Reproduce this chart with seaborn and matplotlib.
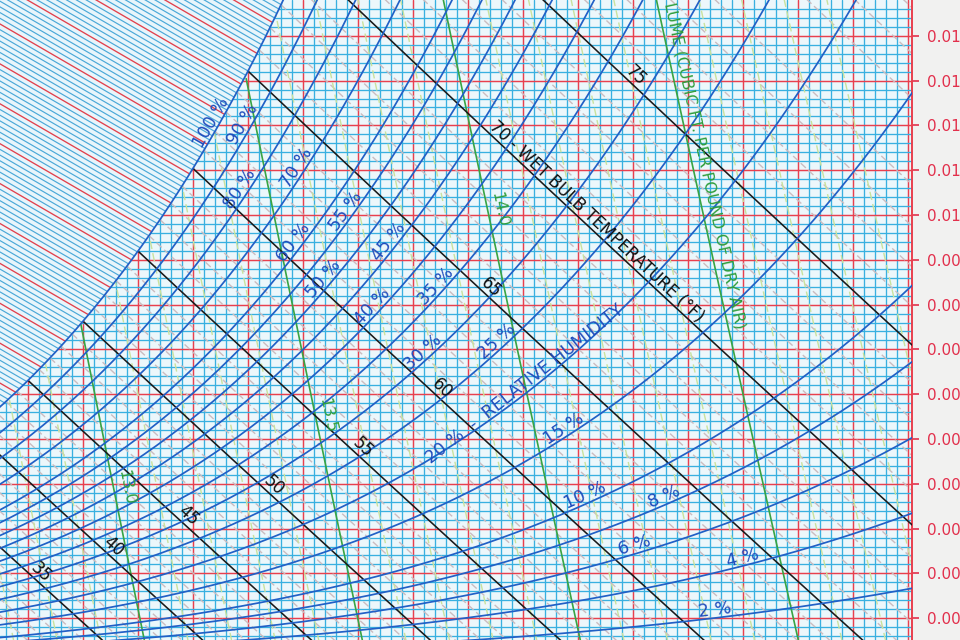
import numpy as np
import pandas as pd
import matplotlib
matplotlib.use("Agg")
import matplotlib.pyplot as plt
import seaborn as sns
from matplotlib.ticker import MultipleLocator, FixedLocator, FixedFormatter
from matplotlib.patches import Polygon
from matplotlib.collections import LineCollection

# ---------------- data ----------------
rh_levels = [2, 4, 6, 8, 10, 15, 20, 25, 30, 35, 40, 45, 50, 55, 60, 70, 80, 90, 100]
rh_label_text = {2: "2 %", 4: "4 %", 6: "6 %", 8: "8 %", 10: "10 %", 15: "15 %",
                 20: "20 %  -  RELATIVE HUMIDITY", 25: "25 %", 30: "30 %",
                 35: "35 %", 40: "40 %", 45: "45 %", 50: "50 %", 55: "55 %",
                 60: "60 %", 70: "70 %", 80: "80 %", 90: "90 %", 100: "100 %"}
wb_major = [35, 40, 45, 50, 55, 60, 65, 70, 75]
wb_label_text = {35: "35", 40: "40", 45: "45", 50: "50", 55: "55", 60: "60",
                 65: "65", 70: "70 - WET BULB TEMPERATURE (°F)", 75: "75"}
wb_minor = [26, 27, 28, 29, 31, 32, 33, 34, 36, 37, 38, 39, 41, 42, 43, 44,
            46, 47, 48, 49, 51, 52, 53, 54, 56, 57, 58, 59, 61, 62, 63, 64,
            66, 67, 68, 69, 71, 72, 73, 74, 76, 77, 78, 79, 81, 82, 83, 84]
vol_major = [13.0, 13.5, 14.0, 14.5]
# the photo crops the start of the 14.5 line title
vol_label_text = {13.0: "13.0", 13.5: "13.5", 14.0: "14.0",
                  14.5: "LUME (CUBIC FT. PER POUND OF DRY AIR)"}
vol_minor = [12.6, 12.7, 12.8, 12.9, 13.1, 13.2, 13.3, 13.4, 13.6, 13.7, 13.8,
             13.9, 14.1, 14.2, 14.3, 14.4, 14.6, 14.7, 14.8, 14.9]
w_ticks = [0.001, 0.002, 0.003, 0.004, 0.005, 0.006, 0.007, 0.008, 0.009,
           0.010, 0.011, 0.012, 0.013, 0.014]
w_tick_labels = ["0.001", "0.002", "0.003", "0.004", "0.005", "0.006", "0.007",
                 "0.008", "0.009", "0.010", "0.011", "0.012", "0.013", "0.014"]
# the right edge of the photo cuts the last digit off every humidity label
w_tick_shown = [s[:4] for s in w_tick_labels]

# ---------------- psychrometrics (IP units) ----------------
P = 14.696

def psat(tf):
    tc = (np.asarray(tf, float) - 32.0) / 1.8
    pk = 0.61121 * np.exp((18.678 - tc / 234.5) * (tc / (257.14 + tc)))
    return pk / 6.894757

def w_rh(tf, rh):
    pv = rh / 100.0 * psat(tf)
    return 0.622 * pv / (P - pv)

def w_wb(tf, twb):
    ws = w_rh(twb, 100)
    return ((1093 - 0.556 * twb) * ws - 0.240 * (tf - twb)) / (1093 + 0.444 * tf - twb)

def t_vol(w, v):
    return v * P / (0.370486 * (1 + 1.607858 * w)) - 459.67

# ---------------- figure ----------------
sns.set_theme(style="white")
plt.rcParams['font.family'] = ['DejaVu Sans']

T0 = 65 - 248 / 11.0
T1 = 65 + (912 - 248) / 11.0
W_TOP = 663 / 44800.0
W_BOT = 23 / 44800.0

fig = plt.figure(figsize=(9.6, 6.4), dpi=100, facecolor='#f1f1f0')
ax = fig.add_axes([0, 0, 912 / 960, 1])
ax.set_xlim(T0, T1)
ax.set_ylim(W_BOT, W_TOP)
ax.set_facecolor('#ecf7fb')

CYAN = '#38b0e0'
RED = '#e8404e'
BLUE = '#2160c6'
GREEN = '#38a444'
TXT_BLUE = '#1f4cbc'
TXT_GREEN = '#2f9e3c'

# grid
ax.xaxis.set_major_locator(MultipleLocator(5))
ax.xaxis.set_minor_locator(MultipleLocator(1))
ax.yaxis.set_major_locator(FixedLocator(w_ticks))
ax.yaxis.set_major_formatter(FixedFormatter(w_tick_shown))
ax.yaxis.set_minor_locator(MultipleLocator(0.0002))
ax.set_axisbelow(True)
ax.grid(which='minor', color=CYAN, linewidth=0.95)
ax.grid(which='major', color=RED, linewidth=1.05)
ax.tick_params(axis='x', which='both', length=0, labelbottom=False)
ax.yaxis.tick_right()
ax.tick_params(axis='y', which='major', colors='#e2304c', length=5, width=1.2,
               labelsize=11, pad=5.5, right=True, left=False, labelleft=False)
ax.tick_params(axis='y', which='minor', length=0)
for s in ['left', 'top', 'bottom']:
    ax.spines[s].set_visible(False)
ax.spines['right'].set_color(RED)
ax.spines['right'].set_linewidth(1.4)

# minor dashed wet-bulb lines
rows = []
for twb in wb_minor:
    tt = np.linspace(twb, T1 + 2, 200)
    for t, w in zip(tt, w_wb(tt, twb)):
        rows.append((twb, t, w))
df_wbm = pd.DataFrame(rows, columns=['wb', 'T', 'W'])
sns.lineplot(data=df_wbm, x='T', y='W', units='wb', estimator=None, sort=False,
             color='#cbbcc0', linewidth=1.0, ax=ax, legend=False, zorder=2)
for ln in ax.lines:
    ln.set_linestyle((0, (5, 2.5)))

# minor dashed volume lines
n_before = len(ax.lines)
rows = []
for v in vol_minor:
    ww = np.linspace(0, 0.02, 300)
    tt = t_vol(ww, v)
    ok = ww <= w_rh(tt, 100)
    for t, w in zip(tt[ok], ww[ok]):
        rows.append((v, t, w))
df_vm = pd.DataFrame(rows, columns=['v', 'T', 'W'])
sns.lineplot(data=df_vm, x='T', y='W', units='v', estimator=None, sort=False,
             color='#c9e29e', linewidth=1.0, ax=ax, legend=False, zorder=2)
for ln in ax.lines[n_before:]:
    ln.set_linestyle((0, (6, 3)))

# major volume lines
rows = []
for v in vol_major:
    ww = np.linspace(0, 0.02, 300)
    tt = t_vol(ww, v)
    ok = ww <= w_rh(tt, 100)
    for t, w in zip(tt[ok], ww[ok]):
        rows.append((v, t, w))
df_v = pd.DataFrame(rows, columns=['v', 'T', 'W'])
sns.lineplot(data=df_v, x='T', y='W', units='v', estimator=None, sort=False,
             color=GREEN, linewidth=1.2, ax=ax, legend=False, zorder=3)

# relative humidity curves
rows = []
tgrid = np.linspace(T0 - 2, T1 + 2, 500)
for rh in rh_levels:
    w = w_rh(tgrid, rh)
    ok = w <= W_TOP * 1.3
    for t, wv in zip(tgrid[ok], w[ok]):
        rows.append((rh, t, wv))
df_rh = pd.DataFrame(rows, columns=['rh', 'T', 'W'])
sns.lineplot(data=df_rh, x='T', y='W', units='rh', estimator=None, sort=False,
             color=BLUE, linewidth=1.25, ax=ax, legend=False, zorder=5)

# major wet bulb lines
rows = []
for twb in wb_major:
    tt = np.linspace(twb, T1 + 2, 200)
    for t, w in zip(tt, w_wb(tt, twb)):
        rows.append((twb, t, w))
df_wb = pd.DataFrame(rows, columns=['wb', 'T', 'W'])
sns.lineplot(data=df_wb, x='T', y='W', units='wb', estimator=None, sort=False,
             color='#1a1a1a', linewidth=1.15, ax=ax, legend=False, zorder=4)

# supersaturated (fog) region with diagonal stripes
ts = np.linspace(T0 - 3, 70, 300)
wsat = w_rh(ts, 100)
keep = wsat <= W_TOP + 0.0005
ts, wsat = ts[keep], wsat[keep]
verts = list(zip(ts, wsat)) + [(ts[-1], W_TOP + 0.001), (T0 - 3, W_TOP + 0.001)]
fog = Polygon(verts, closed=True, facecolor='#e8f5fb', edgecolor='none', zorder=4.2)
ax.add_patch(fog)
k = 0.58 * 11 / 44800.0
dw = 5.7 / 44800.0
segs_b, segs_r = [], []
b = W_BOT - 0.0005
i = 0
while b < W_TOP + k * (75 - T0):
    seg = [(T0 - 3, b + k * 3), (80, b - k * (80 - T0))]
    (segs_r if i % 7 == 0 else segs_b).append(seg)
    b += dw
    i += 1
lc_b = LineCollection(segs_b, colors='#4aa8d8', linewidths=0.85, zorder=4.3)
lc_r = LineCollection(segs_r, colors='#e2404c', linewidths=0.95, zorder=4.3)
for lc in (lc_b, lc_r):
    ax.add_collection(lc)
    lc.set_clip_path(fog)

# ---------------- labels ----------------
def place(x, y_func, text, color, offset_px, size, param_is_w=False):
    if param_is_w:
        w0 = x
        t0 = y_func(w0)
        p0 = ax.transData.transform((t0, w0))
        p1 = ax.transData.transform((y_func(w0 - 0.00005), w0 - 0.00005))
    else:
        t0 = x
        w0 = y_func(t0)
        p0 = ax.transData.transform((t0, w0))
        p1 = ax.transData.transform((t0 + 0.05, y_func(t0 + 0.05)))
    d = p1 - p0
    d = d / np.hypot(*d)
    ang = np.degrees(np.arctan2(d[1], d[0]))
    n = np.array([-d[1], d[0]])
    pos = ax.transData.inverted().transform(p0 + n * offset_px)
    ax.text(pos[0], pos[1], text, rotation=ang, rotation_mode='anchor',
            ha='center', va='center', color=color, fontsize=size, zorder=8)

rh_label_x = {100: 218, 90: 250, 80: 247, 70: 303, 60: 300, 55: 352, 50: 330,
              45: 395, 40: 378, 35: 442, 30: 428, 25: 502, 20: 530, 15: 568,
              10: 588, 8: 667, 6: 637, 4: 745, 2: 716}
for rh, txt in rh_label_text.items():
    tx = 65 + (rh_label_x[rh] - 248) / 11.0
    place(tx, lambda t, r=rh: w_rh(t, r), txt, TXT_BLUE, 8, 12.5)

wb_label_x = {35: 35, 40: 107, 45: 182, 50: 268, 55: 357, 60: 436, 65: 485,
              70: 590, 75: 630}
for twb, txt in wb_label_text.items():
    tx = 65 + (wb_label_x[twb] - 248) / 11.0
    place(tx, lambda t, b=twb: w_wb(t, b), txt, '#111111', 9, 12)

vol_label_y = {13.0: 490, 13.5: 418, 14.0: 212, 14.5: 168}
for v, txt in vol_label_text.items():
    wy = (663 - vol_label_y[v]) / 44800.0
    place(wy, lambda w, vv=v: t_vol(w, vv), txt, TXT_GREEN, 12, 11.5, param_is_w=True)

ax.set_xlabel('')
ax.set_ylabel('')

fig.savefig('out.png', dpi=100, facecolor=fig.get_facecolor())
